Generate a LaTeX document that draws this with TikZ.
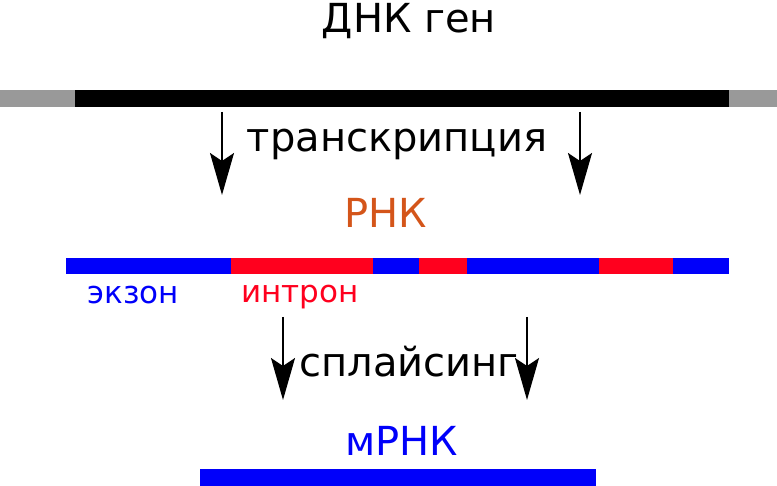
\documentclass[tikz,border=0pt]{standalone}
\usepackage{fontspec}
\setmainfont{DejaVu Sans}
\usetikzlibrary{arrows.meta}
\definecolor{rnaorange}{RGB}{212,85,26}
\definecolor{exonblue}{RGB}{0,0,250}
\definecolor{intronred}{RGB}{255,0,30}
\definecolor{flankgray}{RGB}{153,153,153}
\tikzset{
    lbl/.style={anchor=base, inner sep=0pt, font=\fontsize{40}{48}\selectfont},
    small/.style={anchor=base, inner sep=0pt, font=\fontsize{31}{37}\selectfont},
    down/.style={line width=2pt, -{Stealth[length=42pt,width=24pt,inset=8pt]}},
}

\begin{document}
\begin{tikzpicture}[x=1pt,y=-1pt]
    \useasboundingbox (0,0) rectangle (777,486);
    % gene
    \fill[flankgray] (0,90) rectangle (777,107);
    \fill[black] (75,90) rectangle (729,107);
    % RNA
    \foreach \a/\b/\c in {66/231/exonblue,231/373/intronred,373/419/exonblue,
      419/467/intronred,467/599/exonblue,599/673/intronred,673/729/exonblue}{
      \fill[\c] (\a,258) rectangle (\b,274);
    };
    % mRNA
    \foreach \a/\b in {200/365,365/411,411/543,543/596}{
      \fill[exonblue] (\a,469) rectangle (\b,486);
    };
    \node[lbl] (gene) at (409,33) {ДНК ген};
    \node[lbl] (transcr) at (397,152) {транскрипция};
    \node[lbl, text=rnaorange] (rna) at (386,228) {РНК};
    \node[small, text=exonblue] (exon) at (133,304) {экзон};
    \node[small, text=intronred] (intron) at (300,303) {интрон};
    \node[lbl] (splice) at (409,377) {сплайсинг};
    \node[lbl, text=exonblue] (mrna) at (402,455) {мРНК};
    \foreach \n/\x/\y in {ta/222/112,tb/580/112,sa/283/317,sb/527/317}{
      \coordinate (\n top) at (\x,\y);
      \coordinate (\n tip) at (\x,\y+83);
      \draw[down] (\n top) -- (\n tip);
    };
\end{tikzpicture}
\end{document}
